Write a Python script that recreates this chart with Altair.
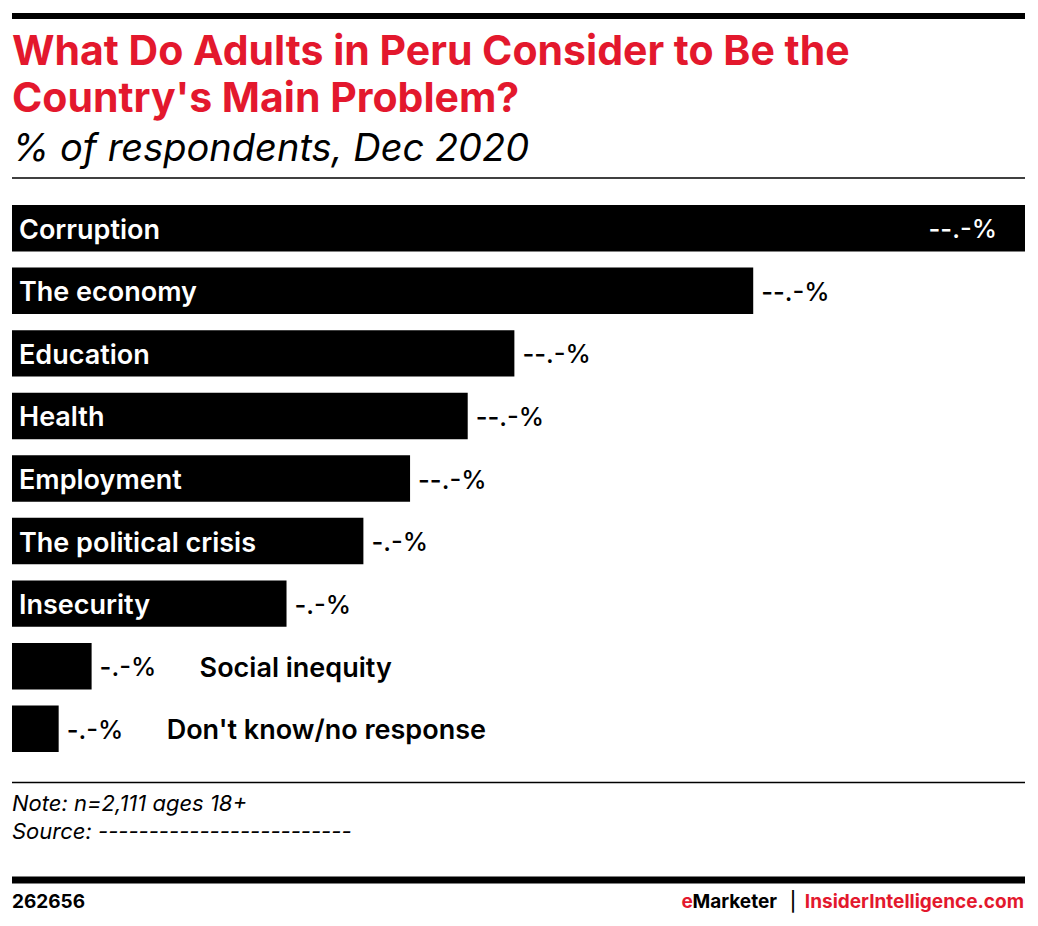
import altair as alt
import pandas as pd

categories = ["Corruption", "The economy", "Education", "Health", "Employment",
              "The political crisis", "Insecurity", "Social inequity",
              "Don't know/no response"]
values = [36.9, 27.0, 18.3, 16.6, 14.5, 12.8, 10.0, 2.9, 1.7]
value_labels = ["--.-%", "--.-%", "--.-%", "--.-%", "--.-%", "-.-%", "-.-%", "-.-%", "-.-%"]

title_lines = ["What Do Adults in Peru Consider to Be the", "Country's Main Problem?"]
subtitle = "% of respondents, Dec 2020"
note_lines = ["Note: n=2,111 ages 18+", "Source: -------------------------"]
chart_id = "262656"

RED = "#e3182d"
FONT = "Inter"
W, H = 1013, 563

df = pd.DataFrame({"category": categories, "value": values, "label": value_labels})
vmax = max(values)

x = alt.X("value:Q", scale=alt.Scale(domain=[0, vmax], nice=False, zero=True), axis=None)
y = alt.Y("category:N", sort=categories,
          scale=alt.Scale(paddingInner=0.257, paddingOuter=0.128), axis=None)

base = alt.Chart(df)

bars = base.mark_bar(color="#000000").encode(x=x, y=y)

inside_names = base.transform_filter("datum.value > 5").mark_text(
    align="left", baseline="middle", color="white", font=FONT, fontWeight=600,
    fontSize=27, dx=7, dy=2.5
).encode(x=alt.value(0), y=y, text="category:N")

outside_names = base.transform_filter("datum.value <= 5").mark_text(
    align="left", baseline="middle", color="black", font=FONT, fontWeight=600,
    fontSize=27, dx=108, dy=2.5
).encode(x=x, y=y, text="category:N")

val_out = base.transform_filter(f"datum.value < {vmax}").mark_text(
    align="left", baseline="middle", color="black", font=FONT, fontWeight=500,
    fontSize=25.5, dx=8, dy=2
).encode(x=x, y=y, text="label:N")

val_in = base.transform_filter(f"datum.value >= {vmax}").mark_text(
    align="right", baseline="middle", color="white", font=FONT, fontWeight=500,
    fontSize=25.5, dx=-28, dy=2
).encode(x=x, y=y, text="label:N")

one = alt.Data(values=[{"a": 1}])


def rule(ypos, width):
    return alt.Chart(one).mark_rule(color="black", strokeWidth=width).encode(
        x=alt.value(0), x2=alt.value(W), y=alt.value(ypos))


def text(t, xpos, ypos, size, color="black", weight="normal", style="normal", align="left"):
    return alt.Chart(one).mark_text(
        text=t, align=align, baseline="alphabetic", font=FONT, fontSize=size,
        fontWeight=weight, fontStyle=style, color=color
    ).encode(x=alt.value(xpos), y=alt.value(ypos))


decor = [
    rule(-181, 6),
    text(title_lines[0], 0, -132.5, 41, RED, "bold"),
    text(title_lines[1], 0, -85.5, 41, RED, "bold"),
    text(subtitle, 0, -36.5, 38, "black", "normal", "italic"),
    rule(-19, 1.5),
    rule(585.5, 1.5),
    text(note_lines[0], 0, 613.5, 22, "black", "normal", "italic"),
    text(note_lines[1], 0, 642, 22, "black", "normal", "italic"),
    rule(683, 7),
    text(chart_id, 0, 710.5, 19, "black", "bold"),
    text("InsiderIntelligence.com", W - 1, 710.5, 19, RED, "bold", align="right"),
    text("|", 781, 710.5, 19, "black", 500, align="center"),
    text("e", 669.5, 710.5, 19, RED, "bold"),
    text("Marketer", 680.5, 710.5, 19, "black", "bold"),
]

chart = alt.layer(bars, inside_names, outside_names, val_out, val_in, *decor).properties(
    width=W, height=H,
    background="white",
    autosize=alt.AutoSizeParams(type="none"),
    padding={"left": 4, "top": 189, "right": 5, "bottom": 160},
).configure_view(strokeWidth=0, stroke=None)

chart.save("out.html", embed_options={"renderer": "svg", "actions": False})
